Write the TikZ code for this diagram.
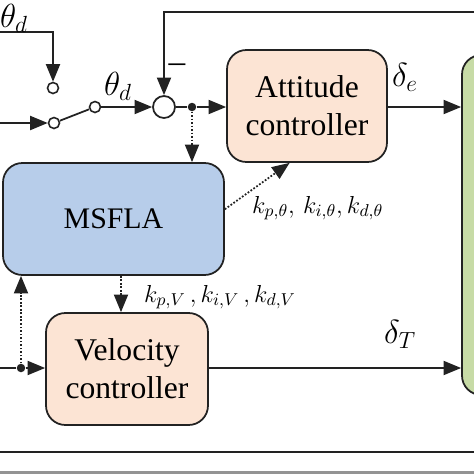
\RequirePackage{fix-cm}
\documentclass[tikz,border=0pt]{standalone}
\usepackage{fontspec}
\setmainfont{Liberation Serif}
\usepackage{tikz}
\usetikzlibrary{arrows.meta}
\definecolor{peach}{HTML}{FCE4D4}
\definecolor{skyblue}{HTML}{B7CDEA}
\definecolor{plantgreen}{HTML}{C7DBA6}
\definecolor{linegray}{HTML}{222222}
\pgfkeys{tikz/blockbox/.style={draw=linegray, line width=1pt, 
                                  rounded corners=11pt, 
                                  inner sep=0pt, 
                                  align=center}}
\pgfkeys{tikz/wire/.style={draw=linegray, line width=1pt}}
\pgfkeys{tikz/sig/.style={wire, -{Triangle[length=10pt,width=8pt]}}}
\pgfkeys{tikz/tunesig/.style={sig, densely dotted}}
\pgfkeys{tikz/contact/.style={circle, draw=linegray, line width=0.9pt, 
                                 fill=white, inner sep=0pt, minimum size=0.22cm}}
\pgfkeys{tikz/junction/.style={circle, fill=linegray, inner sep=0pt, minimum size=0.17cm}}
\pgfkeys{tikz/siglabel/.style={font=\fontsize{19}{21}\selectfont}}
\pgfkeys{tikz/gainlabel/.style={font=\fontsize{14}{16}\selectfont, anchor=west}}

\begin{document}
\begin{tikzpicture}[x=0.02cm, y=-0.02cm]
                \useasboundingbox (0,0) rectangle (474,474);
                \clip (0,0) rectangle (474,474);

                \node[blockbox, fill=peach, minimum width=3.2cm, minimum height=2.24cm,
                      font=\fontsize{18}{21.5}\selectfont] (att) at (307,106) {Attitude\\controller};
                \node[blockbox, fill=skyblue, minimum width=4.42cm, minimum height=2.24cm,
                      font=\fontsize{17}{20}\selectfont] (msfla) at (113.5,219) {MSFLA};
                \node[blockbox, fill=peach, minimum width=3.24cm, minimum height=2.24cm,
                      font=\fontsize{18}{21.5}\selectfont] (vel) at (127,369) {Velocity\\controller};
                \node[blockbox, fill=plantgreen, minimum width=1.2cm, minimum height=6.8cm] (plant) at (492,225) {};

                \node[contact] (s1) at (54,123) {};
                \node[contact] (s2) at (95,107) {};
                \node[contact] (s3) at (53,88) {};
                \node[circle, draw=linegray, line width=1pt, fill=white, minimum size=0.44cm, inner sep=0pt] (sum) at (164,107) {};
                \node[junction] (j1) at (192,107) {};
                \node[junction] (j2) at (21,368) {};

                \coordinate (thin) at (-5,32);
                \coordinate (refin) at (-5,123);
                \coordinate (velin) at (-5,368);
                \coordinate (fbin) at (480,12);
                \coordinate (kvx) at (121,0);

                \draw[sig] (thin) -| (s3.north);
                \draw[sig] (refin) -- (s1.west);
                \draw[wire] (s1) -- (s2);
                \draw[sig] (s2) -- (sum);
                \draw[sig] (fbin) -| (sum.north);
                \draw[wire] (sum) -- (j1);
                \draw[sig] (j1) -- (j1 -| att.west);
                \draw[sig] (att.east |- j1) -- (j1 -| plant.west);

                \draw[tunesig] (j1) -- (j1 |- msfla.north);
                \draw[tunesig] (msfla.5) -- (att.253);
                \draw[tunesig] (msfla.south -| kvx) -- (vel.north -| kvx);
                \draw[tunesig] (j2) -- (j2 |- msfla.south);

                \draw[wire] (velin) -- (j2);
                \draw[sig] (j2) -- (vel.west |- j2);
                \draw[sig] (vel.east |- j2) -- (j2 -| plant.west);

                \node[siglabel] (thtop) at (14,18) {$\theta_d$};
                \node[siglabel] (thmid) at (118,86) {$\theta_d$};
                \node[siglabel] (minus) at (177,68) {\textendash};
                \node[siglabel] (de) at (405,77) {$\delta_e$};
                \node[siglabel] (dt) at (400,334) {$\delta_T$};
                \node[gainlabel] (kth) at (246,208) {$k_{p,\theta},\, k_{i,\theta}, k_{d,\theta}$};
                \node[gainlabel] (kv) at (138,297) {$k_{p,V}\,, k_{i,V}\,, k_{d,V}$};

                \draw[wire] (0,452) -- (474,452);
                \fill[gray!85] (0,471) rectangle (474,474);
\end{tikzpicture}
\end{document}
